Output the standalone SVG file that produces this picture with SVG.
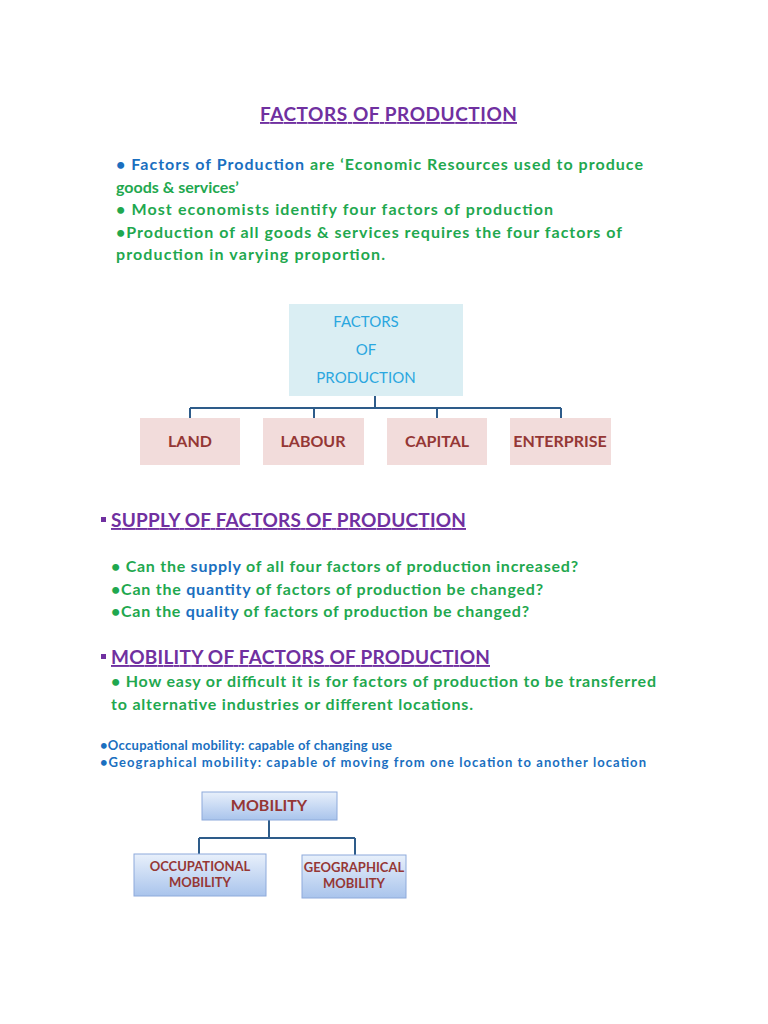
<svg xmlns="http://www.w3.org/2000/svg" width="768" height="1024" viewBox="0 0 768 1024">
<style>
text{font-family:Lato,"Open Sans","Liberation Sans",sans-serif;font-weight:bold}
.g{fill:#1fa84f;font-size:16px}
.b{fill:#1a6fbf}
.h{fill:#7030a0;font-size:19px;text-decoration:underline}
.fb{fill:#2aa7df;font-size:15px;font-weight:normal}
.rb{fill:#f2dcdb}
.rt{fill:#953735;font-size:16px}
.mt{fill:#953735;font-size:13px}
.sm{fill:#1a6fbf;font-size:13px}
.ln{stroke:#2e5c8a;stroke-width:2;fill:none}
</style>
<defs>
<linearGradient id="bl" x1="0" y1="0" x2="0" y2="1"><stop offset="0" stop-color="#e8f0fb"/><stop offset="1" stop-color="#a9c4ec"/></linearGradient>
</defs>
<rect width="768" height="1024" fill="#fff"/>
<text class="h" x="260" y="121" textLength="257">FACTORS OF PRODUCTION</text>
<text class="g" x="116" y="170" textLength="527"><tspan class="b">• Factors of Production</tspan> are ‘Economic Resources used to produce</text>
<text class="g" x="116" y="193">goods &amp; services’</text>
<text class="g" x="116" y="215" textLength="437">•  Most economists identify four factors of production</text>
<text class="g" x="116" y="238" textLength="506">•Production of all goods &amp; services requires the four factors of</text>
<text class="g" x="116" y="260" textLength="269">production in varying proportion.</text>
<g id="connectors">
<path class="ln" d="M375 396V408M190 408H561M190 408V420M314 408V420M437 408V420M561 408V420"/>
<path class="ln" d="M269 820V838M199 838H355M199 838V854M355 838V856"/>
</g>
<g id="fop"><rect x="289" y="304" width="174" height="92" fill="#daeef3"/>
<text class="fb" x="366" y="327" text-anchor="middle">FACTORS</text>
<text class="fb" x="366" y="355" text-anchor="middle">OF</text>
<text class="fb" x="366" y="383" text-anchor="middle">PRODUCTION</text></g>
<g id="land"><rect class="rb" x="140" y="418" width="100" height="47"/><text class="rt" x="190" y="447" text-anchor="middle">LAND</text></g>
<g id="labour"><rect class="rb" x="263" y="418" width="101" height="47"/><text class="rt" x="313" y="447" text-anchor="middle">LABOUR</text></g>
<g id="capital"><rect class="rb" x="387" y="418" width="100" height="47"/><text class="rt" x="437" y="447" text-anchor="middle">CAPITAL</text></g>
<g id="enterprise"><rect class="rb" x="510" y="418" width="101" height="47"/><text class="rt" x="560" y="447" text-anchor="middle">ENTERPRISE</text></g>
<rect x="101" y="517" width="5" height="5" fill="#7030a0"/>
<text class="h" x="111" y="527" textLength="355">SUPPLY OF FACTORS OF PRODUCTION</text>
<text class="g" x="111" y="572" textLength="467">• Can the <tspan class="b">supply</tspan> of all four factors of production increased?</text>
<text class="g" x="111" y="595" textLength="432">•Can the <tspan class="b">quantity</tspan> of factors of production be changed?</text>
<text class="g" x="111" y="617" textLength="418">•Can the <tspan class="b">quality</tspan> of factors of production be changed?</text>
<rect x="101" y="654" width="5" height="5" fill="#7030a0"/>
<text class="h" x="111" y="664" textLength="379">MOBILITY OF FACTORS OF PRODUCTION</text>
<text class="g" x="111" y="687" textLength="545">• How easy or difficult it is for factors of production to be transferred</text>
<text class="g" x="111" y="710" textLength="362">to alternative industries or different locations.</text>
<text class="sm" x="100" y="750" textLength="292">•Occupational mobility: capable of changing use</text>
<text class="sm" x="100" y="767" textLength="546">•Geographical mobility: capable of moving from one location to another location</text>
<g id="mobility"><rect x="202" y="792" width="135" height="28" fill="url(#bl)" stroke="#8eaadb"/><text class="rt" x="269" y="811" text-anchor="middle">MOBILITY</text></g>
<g id="occupational"><rect x="134" y="854" width="132" height="42" fill="url(#bl)" stroke="#8eaadb"/><text class="mt" x="200" y="871" text-anchor="middle">OCCUPATIONAL</text><text class="mt" x="200" y="887" text-anchor="middle">MOBILITY</text></g>
<g id="geographical"><rect x="302" y="855" width="104" height="43" fill="url(#bl)" stroke="#8eaadb"/><text class="mt" x="354" y="872" text-anchor="middle">GEOGRAPHICAL</text><text class="mt" x="354" y="888" text-anchor="middle">MOBILITY</text></g>
</svg>
